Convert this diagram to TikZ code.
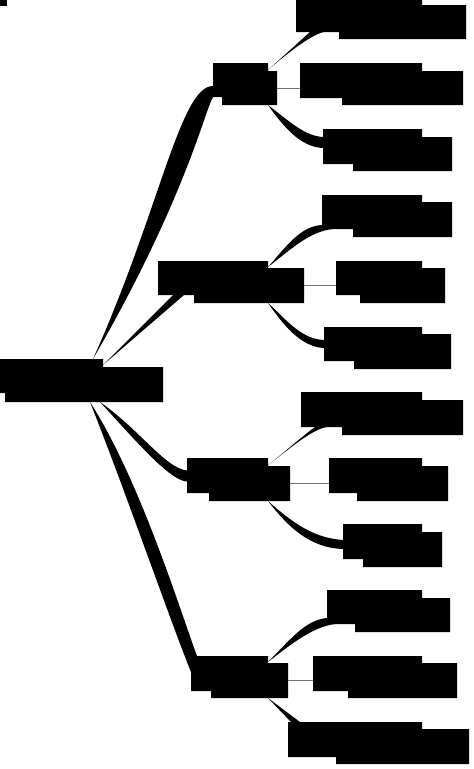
\documentclass[tikz,border=0pt]{standalone}
\usetikzlibrary{fit,calc}
\begin{document}
\tikzset{
  blk/.style={draw=none, inner sep=0pt, outer sep=0pt},
  wedge/.style={fill=black, draw=none},
  thinlink/.style={draw=black!55, line width=0.9pt}
}
\newcommand\blkpair[2]{\fill[black] (#1.north west) -- (#1.north east) -- (#1.north east |- #2.north) -- (#2.north east) -- (#2.south east) -- (#2.south west) -- (#2.south west |- #1.south) -- (#1.south west) -- cycle;}
\begin{tikzpicture}[x=1pt,y=-1pt]
\useasboundingbox (0,0) rectangle (474,769);
% small mark
\node[blk, fill=black, fit={(0,0)(7,6)}] (dot) {};
% root
\node[blk, fit={(0,359)(103,393)}] (rootA) {};
\node[blk, fit={(5,367)(163,402)}] (rootB) {};
% branch 1
\node[blk, fit={(213,63)(268,97)}] (b1a) {};
\node[blk, fit={(222,71)(277,105)}] (b1b) {};
\node[blk, fit={(296,0)(422,32)}] (c1aA) {};
\node[blk, fit={(339,5)(466,39)}] (c1aB) {};
\node[blk, fit={(300,63)(422,98)}] (c1bA) {};
\node[blk, fit={(342,71)(463,105)}] (c1bB) {};
\node[blk, fit={(323,129)(422,164)}] (c1cA) {};
\node[blk, fit={(353,137)(452,171)}] (c1cB) {};
% branch 2
\node[blk, fit={(158,261)(268,295)}] (b2a) {};
\node[blk, fit={(194,268)(304,303)}] (b2b) {};
\node[blk, fit={(322,195)(422,229)}] (c2aA) {};
\node[blk, fit={(353,202)(452,237)}] (c2aB) {};
\node[blk, fit={(336,261)(422,295)}] (c2bA) {};
\node[blk, fit={(360,268)(445,303)}] (c2bB) {};
\node[blk, fit={(324,327)(422,361)}] (c2cA) {};
\node[blk, fit={(354,334)(451,369)}] (c2cB) {};
% branch 3
\node[blk, fit={(187,458)(268,493)}] (b3a) {};
\node[blk, fit={(209,466)(290,501)}] (b3b) {};
\node[blk, fit={(301,392)(422,427)}] (c3aA) {};
\node[blk, fit={(342,400)(463,435)}] (c3aB) {};
\node[blk, fit={(329,458)(422,493)}] (c3bA) {};
\node[blk, fit={(357,466)(448,501)}] (c3bB) {};
\node[blk, fit={(343,524)(422,559)}] (c3cA) {};
\node[blk, fit={(363,532)(442,567)}] (c3cB) {};
% branch 4
\node[blk, fit={(191,656)(268,691)}] (b4a) {};
\node[blk, fit={(211,663)(288,698)}] (b4b) {};
\node[blk, fit={(327,590)(422,624)}] (c4aA) {};
\node[blk, fit={(355,598)(450,632)}] (c4aB) {};
\node[blk, fit={(313,656)(422,691)}] (c4bA) {};
\node[blk, fit={(348,663)(457,698)}] (c4bB) {};
\node[blk, fit={(288,722)(422,757)}] (c4cA) {};
\node[blk, fit={(336,729)(469,764)}] (c4cB) {};

% filled boxes (each pair as one outline, no seams)
\blkpair{rootA}{rootB}
\blkpair{b1a}{b1b}
\blkpair{c1aA}{c1aB}
\blkpair{c1bA}{c1bB}
\blkpair{c1cA}{c1cB}
\blkpair{b2a}{b2b}
\blkpair{c2aA}{c2aB}
\blkpair{c2bA}{c2bB}
\blkpair{c2cA}{c2cB}
\blkpair{b3a}{b3b}
\blkpair{c3aA}{c3aB}
\blkpair{c3bA}{c3bB}
\blkpair{c3cA}{c3cB}
\blkpair{b4a}{b4b}
\blkpair{c4aA}{c4aB}
\blkpair{c4bA}{c4bB}
\blkpair{c4cA}{c4cB}

% ---- main tapered branches from root
\fill[wedge] ($(rootA.north east)+(-10,0)$) .. controls (160,210) and (180,86) .. ($(b1a.south west)+(0,-11)$)
  -- (b1a.south west) .. controls (205,110) and (185,200) .. ($(rootA.north east)+(-10,0)$) -- cycle;
\fill[wedge] ($(rootA.north east)+(0,6)$) -- ($(b2a.south west)+(15,0)$) -- ($(b2a.south west)+(26,0)$) -- cycle;
\fill[wedge] ($(rootB.south west)+(95,0)$) .. controls (140,430) and (165,468) .. ($(b3a.west)+(0,-5)$)
  -- ($(b3a.west)+(0,6)$) .. controls (170,481) and (135,440) .. ($(rootB.south west)+(95,0)$) -- cycle;
\fill[wedge] ($(rootB.south west)+(85,0)$) .. controls (125,490) and (170,620) .. ($(b4a.north west)+(0,16)$)
  -- ($(b4a.north west)+(6,0)$) .. controls (180,610) and (140,480) .. ($(rootB.south west)+(85,0)$) -- cycle;

% ---- branch 1 children
\fill[wedge] ($(b1a.north east)+(0,7)$) -- ($(c1aA.south west)+(14,0)$) -- ($(c1aA.south west)+(28,0)$)
  .. controls (312,34) and (285,55) .. ($(b1a.north east)+(0,7)$) -- cycle;
\draw[thinlink] (b1b.east) -- (c1bA.west |- b1b.east);
\fill[wedge] ($(b1b.south west)+(46,0)$) .. controls (290,122) and (305,136) .. ($(c1cA.west)+(0,-9.5)$)
  -- ($(c1cA.west)+(0,1.5)$) .. controls (300,147) and (283,126) .. ($(b1b.south west)+(46,0)$) -- cycle;

% ---- branch 2 children
\fill[wedge] ($(b2a.north east)+(0,6)$) .. controls (285,248) and (300,226) .. ($(c2aA.south west)+(0,-4)$)
  -- ($(c2aA.south west)+(11,0)$) .. controls (310,231) and (290,250) .. ($(b2a.north east)+(0,6)$) -- cycle;
\draw[thinlink] (b2b.east) -- (c2bA.west |- b2b.east);
\fill[wedge] ($(b2b.south west)+(74,0)$) .. controls (285,318) and (300,339) .. ($(c2cA.west)+(0,-4)$)
  -- ($(c2cA.west)+(0,4)$) .. controls (300,347) and (282,323) .. ($(b2b.south west)+(74,0)$) -- cycle;

% ---- branch 3 children
\fill[wedge] ($(b3a.north east)+(0,7)$) .. controls (285,452) and (300,438) .. ($(c3aA.south west)+(14,0)$)
  -- ($(c3aA.south west)+(26,0)$) .. controls (312,429) and (288,450) .. ($(b3a.north east)+(0,7)$) -- cycle;
\draw[thinlink] (b3b.east) -- (c3bA.west |- b3b.east);
\fill[wedge] ($(b3b.south west)+(59,0)$) .. controls (295,525) and (315,538) .. ($(c3cA.west)+(0,-1.5)$)
  -- ($(c3cA.west)+(0,7.5)$) .. controls (310,548) and (288,527) .. ($(b3b.south west)+(59,0)$) -- cycle;

% ---- branch 4 children
\fill[wedge] ($(b4a.north east)+(0,6)$) .. controls (290,640) and (305,620) .. ($(c4aA.south west)+(0,-6)$)
  -- ($(c4aA.south west)+(8,0)$) .. controls (312,627) and (290,645) .. ($(b4a.north east)+(0,6)$) -- cycle;
\draw[thinlink] (b4b.east) -- (c4bA.west |- b4b.east);
\fill[wedge] ($(b4b.south west)+(57,0)$) -- ($(c4cA.north west)+(12,0)$) -- ($(c4cA.north west)+(3,0)$) -- cycle;
\end{tikzpicture}
\end{document}
